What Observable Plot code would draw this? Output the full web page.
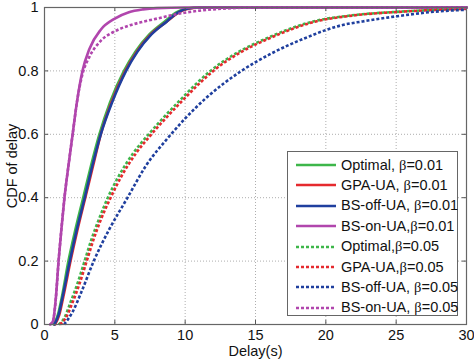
<!DOCTYPE html>
<html>
<head>
<meta charset="utf-8">
<script src="https://cdn.jsdelivr.net/npm/d3@7"></script>
<script src="https://cdn.jsdelivr.net/npm/@observablehq/plot@0.6"></script>
<style>
  body { margin: 0; background: #fff; font-family: Arial, "Liberation Sans", sans-serif; }
  #wrap { position: relative; width: 474px; height: 361px; }
  #legend { position: absolute; left: 287px; top: 151px; width: 171px; height: 165px;
            border: 1px solid #666; background: #fff; box-sizing: border-box; }
  .item { position: absolute; left: 0; height: 20px; display: flex; align-items: center; font-size: 14.5px; color: #111; white-space: nowrap; }
  .item svg { margin-left: 8px; margin-right: 5px; }
  .b { font-family: "Liberation Serif", "Times New Roman", serif; }
</style>
</head>
<body>
<div id="wrap"></div>
<script>
// Series values (delay in seconds -> CDF)
const optimal01X = [0.65, 0.95, 1.25, 1.7, 2.2, 2.75, 3.3, 3.9, 4.65, 5.65, 6.45, 7.45, 8.55, 9.4, 10.1, 11, 30];
const optimal01Y = [0, 0.03, 0.09, 0.2, 0.3, 0.4, 0.5, 0.6, 0.7, 0.8, 0.86, 0.915, 0.956, 0.985, 0.997, 1, 1];
const gpa01X     = [0.75, 1.05, 1.35, 1.85, 2.35, 2.9, 3.45, 4.0, 4.75, 5.75, 6.55, 7.55, 8.7, 9.55, 10.3, 11.2, 30];
const gpa01Y     = [0, 0.03, 0.09, 0.2, 0.3, 0.4, 0.5, 0.6, 0.7, 0.8, 0.86, 0.915, 0.956, 0.985, 0.997, 1, 1];
const bsOff01X   = [0.7, 1.0, 1.3, 1.8, 2.3, 2.86, 3.4, 4.0, 4.8, 5.8, 6.6, 7.6, 8.7, 9.5, 10.2, 11, 30];
const bsOff01Y   = [0, 0.03, 0.09, 0.2, 0.3, 0.4, 0.5, 0.6, 0.7, 0.8, 0.86, 0.915, 0.956, 0.985, 0.997, 1, 1];
const bsOn01X    = [0.4, 0.6, 0.8, 1.0, 1.2, 1.42, 1.7, 2.0, 2.3, 2.7, 3.2, 4.0, 5.0, 6.0, 7.0, 8.0, 10, 30];
const bsOn01Y    = [0, 0.01, 0.08, 0.2, 0.3, 0.4, 0.5, 0.6, 0.7, 0.8, 0.87, 0.93, 0.965, 0.985, 0.994, 0.998, 1, 1];

const optimal05X = [1.0, 1.4, 1.85, 2.35, 2.85, 3.35, 3.85, 4.5, 5.3, 6.3, 7.4, 8.3, 9.8, 10.8, 11.8, 13.8, 15.8, 19.1, 21.8, 25.3, 28, 30];
const optimal05Y = [0, 0.02, 0.07, 0.13, 0.2, 0.27, 0.33, 0.4, 0.47, 0.54, 0.6, 0.645, 0.715, 0.76, 0.8, 0.86, 0.903, 0.956, 0.975, 0.987, 0.993, 0.996];
const gpa05X     = [1.1, 1.5, 2.0, 2.5, 3.0, 3.5, 4.0, 4.7, 5.5, 6.5, 7.6, 8.5, 10, 11, 12, 14, 16, 19.3, 22, 25.5, 28, 30];
const gpa05Y     = [0, 0.02, 0.07, 0.13, 0.2, 0.27, 0.33, 0.4, 0.47, 0.54, 0.6, 0.645, 0.715, 0.76, 0.8, 0.86, 0.903, 0.956, 0.975, 0.987, 0.993, 0.996];
const bsOff05X   = [1.4, 2.0, 2.6, 3.5, 4.6, 5.9, 7.2, 8.8, 10, 11.5, 14, 16, 18.5, 21.2, 22.6, 25, 27.8, 30];
const bsOff05Y   = [0, 0.04, 0.1, 0.2, 0.3, 0.4, 0.5, 0.59, 0.65, 0.715, 0.8, 0.852, 0.903, 0.945, 0.956, 0.972, 0.987, 0.993];
const bsOn05X    = [0.4, 0.6, 0.8, 1.0, 1.2, 1.42, 1.7, 2.0, 2.3, 2.7, 3.2, 4.0, 5.0, 6.0, 7.0, 8.0, 9.5, 11, 13, 15, 30];
const bsOn05Y    = [0, 0.01, 0.08, 0.2, 0.3, 0.4, 0.5, 0.6, 0.7, 0.79, 0.845, 0.895, 0.925, 0.943, 0.955, 0.965, 0.98, 0.99, 0.997, 1, 1];

const seriesNames = ["Optimal, β=0.01", "GPA-UA, β=0.01", "BS-off-UA, β=0.01", "BS-on-UA,β=0.01",
                     "Optimal,β=0.05", "GPA-UA,β=0.05", "BS-off-UA, β=0.05", "BS-on-UA, β=0.05"];
const seriesX = [optimal01X, gpa01X, bsOff01X, bsOn01X, optimal05X, gpa05X, bsOff05X, bsOn05X];
const seriesY = [optimal01Y, gpa01Y, bsOff01Y, bsOn01Y, optimal05Y, gpa05Y, bsOff05Y, bsOn05Y];
const seriesColor = ["#3db64a", "#e52a2e", "#1f3f9e", "#b146ad", "#3db64a", "#e52a2e", "#1f3f9e", "#b146ad"];
const seriesDashed = [false, false, false, false, true, true, true, true];

const xTicks = [0, 5, 10, 15, 20, 25, 30];
const yTicks = [0, 0.2, 0.4, 0.6, 0.8, 1];
const yTickLabels = ["0", "0.2", "0.4", "0.6", "0.8", "1"];

const marks = [];
marks.push(Plot.gridX(xTicks, {stroke: "#9a9a9a", strokeOpacity: 0.8, strokeDasharray: "1,2"}));
marks.push(Plot.gridY(yTicks, {stroke: "#9a9a9a", strokeOpacity: 0.8, strokeDasharray: "1,2"}));
seriesNames.forEach((name, i) => {
  const data = seriesX[i].map((x, j) => ({x, y: seriesY[i][j]}));
  const opts = {x: "x", y: "y", stroke: seriesColor[i], strokeWidth: 2.6, curve: "monotone-x"};
  if (seriesDashed[i]) { opts.strokeDasharray = "3,2"; opts.strokeLinecap = "butt"; opts.strokeLinejoin = "miter"; }
  marks.push(Plot.line(data, opts));
});
// inward ticks (bottom, top, left, right)
marks.push(Plot.ruleX(xTicks, {x: d => d, y1: 0, y2: 0.013, stroke: "#555"}));
marks.push(Plot.ruleX(xTicks, {x: d => d, y1: 1, y2: 0.987, stroke: "#555"}));
marks.push(Plot.ruleY(yTicks, {y: d => d, x1: 0, x2: 0.3, stroke: "#555"}));
marks.push(Plot.ruleY(yTicks, {y: d => d, x1: 30, x2: 29.7, stroke: "#555"}));
marks.push(Plot.axisX(xTicks, {tickSize: 0, tickPadding: 5, fontSize: 14.5, label: "Delay(s)", labelAnchor: "center", labelArrow: "none", labelOffset: 31}));
marks.push(Plot.axisY(yTicks, {tickSize: 0, tickPadding: 6, fontSize: 14.5, tickFormat: (d, i) => yTickLabels[i], label: "CDF of delay", labelAnchor: "center", labelArrow: "none", labelOffset: 38}));
marks.push(Plot.frame({stroke: "#666", strokeWidth: 1.2}));

const chart = Plot.plot({
  width: 474, height: 361,
  marginLeft: 44, marginRight: 8, marginTop: 7, marginBottom: 37,
  x: {domain: [0, 30]},
  y: {domain: [0, 1]},
  style: {fontFamily: "Arial, 'Liberation Sans', sans-serif", fontSize: "14.5px", color: "#111", background: "#fff", overflow: "visible"},
  marks
});
const wrap = document.getElementById("wrap");
wrap.appendChild(chart);

// Legend
const legend = document.createElement("div");
legend.id = "legend";
seriesNames.forEach((name, i) => {
  const item = document.createElement("div");
  item.className = "item";
  item.style.top = (3 + i * 20.4) + "px";
  const dash = seriesDashed[i] ? ' stroke-dasharray="3,2"' : "";
  const parts = name.split("β");
  item.innerHTML = `<svg width="40" height="6"><line x1="0" y1="3" x2="40" y2="3" stroke="${seriesColor[i]}" stroke-width="2.6"${dash}/></svg>` +
    `<span>${parts[0]}<span class="b">β</span>${parts[1]}</span>`;
  legend.appendChild(item);
});
wrap.appendChild(legend);
</script>
</body>
</html>
